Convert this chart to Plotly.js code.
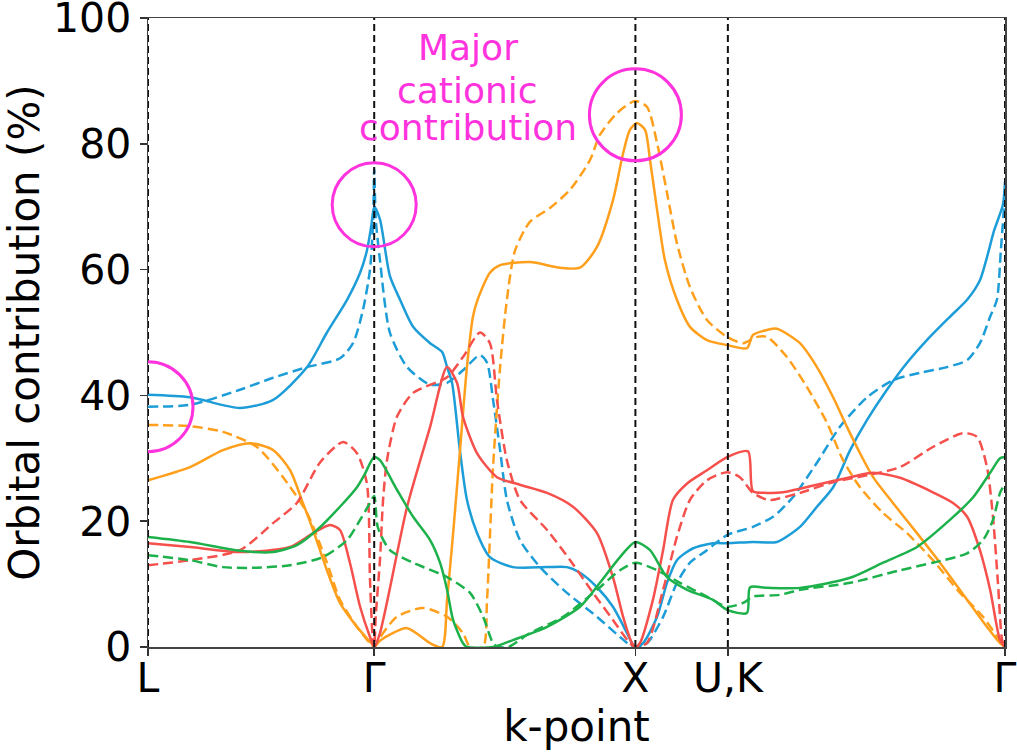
<!DOCTYPE html>
<html>
<head>
<meta charset="utf-8">
<script src="https://cdn.plot.ly/plotly-3.0.1.min.js"></script>
<style>html,body{margin:0;padding:0;background:#fff}#chart{width:1017px;height:752px}</style>
</head>
<body>
<div id="chart"></div>
<script>
// high-symmetry k-points (path distance, 2π/a units)
const kTickVals = [0, 0.866, 1.866, 2.220, 3.281];
const kTickText = ['L', 'Γ', 'X', 'U,K', 'Γ'];

// blue solid
const blueSolidX = [0,0.161,0.352,0.479,0.609,0.685,0.762,0.812,0.838,0.855,0.866,
  0.888,0.926,0.965,1.015,1.080,1.126,1.145,1.164,1.194,1.221,1.260,1.309,1.397,1.528,1.604,1.654,1.719,1.780,1.834,1.857,1.866,
  1.895,1.949,1.987,2.025,2.087,2.163,2.220,2.316,2.408,2.496,2.561,2.623,2.688,2.753,2.829,2.906,2.982,3.070,3.136,3.185,3.240,3.273,3.281];
const blueSolidY = [40.1,39.7,38.0,39.3,44.5,50.0,55.2,59.5,63,67,70,
  68,59,55.2,50.9,48.3,46.9,44.5,42,31.3,23.4,18.1,14.3,12.7,12.7,12.7,11.8,9.5,6.4,2.2,0.3,0,
  0.6,4.8,10.2,13.8,15.7,16.5,16.5,16.7,16.7,19.1,22.3,25.4,31.3,36.1,40.9,45.2,48.8,52.5,55.2,58.3,66.3,70.3,74];

// blue dashed
const blueDashX = [0,0.161,0.352,0.479,0.609,0.735,0.785,0.823,0.850,0.862,0.866,
  0.872,0.888,0.926,0.992,1.080,1.145,1.206,1.271,1.298,1.321,1.348,1.374,1.424,1.501,1.604,1.719,1.807,1.845,1.866,
  1.910,1.972,2.025,2.075,2.140,2.217,2.316,2.393,2.469,2.561,2.649,2.753,2.852,2.956,3.059,3.136,3.185,3.224,3.250,3.265,3.281];
const blueDashY = [38.2,38.5,40.9,42.8,44.5,45.9,48.3,53.6,60,68,76,
  68,61.5,50,44.5,41.7,42,44,46.4,45.2,39.3,31.3,23.4,17,12.7,8.6,4.8,1.6,0.3,0,
  0.6,4.8,10.2,13.4,15.4,17.8,19.1,20.7,23.8,29.3,35,39.7,42.4,43.6,44.5,45.6,48.3,52.5,55.2,63,72];

// red solid
const redSolidX = [0,0.161,0.352,0.544,0.632,0.697,0.735,0.773,0.812,0.850,0.866,
  0.888,0.992,1.080,1.145,1.183,1.206,1.260,1.336,1.424,1.528,1.627,1.719,1.780,1.819,1.853,1.866,
  1.883,1.933,1.972,2.010,2.064,2.140,2.217,2.297,2.316,2.370,2.431,2.561,2.688,2.776,2.879,3.005,3.082,3.136,3.185,3.224,3.262,3.281];
const redSolidY = [16.5,15.9,15.1,15.9,18.1,19.4,18.6,13.4,6.4,1.6,0,
  2.2,22.3,35,44.5,42,36.6,30.8,27,25.8,24.5,22.3,18.1,11.1,4.8,0.6,0,
  0.6,7.5,15.4,23.4,26,28.1,30.2,31.1,24.8,24.5,24.6,25.8,27,27.7,26.9,24.6,22.9,20.7,15.4,9.1,1.1,0];

// red dashed
const redDashX = [0,0.161,0.352,0.479,0.570,0.658,0.747,0.800,0.838,0.850,0.861,0.866,
  0.872,0.888,0.900,0.915,0.953,1.015,1.145,1.206,1.271,1.309,1.336,1.374,1.424,1.528,1.616,1.704,1.780,1.845,1.866,
  1.910,1.972,2.025,2.075,2.140,2.217,2.266,2.316,2.370,2.393,2.496,2.623,2.753,2.879,3.005,3.120,3.174,3.212,3.235,3.254,3.270,3.281];
const redDashY = [13,13.8,15.4,19.7,22.9,29.3,32.6,30.8,26,10.6,1,0,
  5,13.8,23.4,29.7,36.6,40.4,42.9,46.1,50,48.3,39.3,29.7,23.4,18.6,13.8,8.6,4.3,0.6,0,
  0.6,9.1,17.5,23.4,26.5,27.8,27,24.5,23.4,23.4,24.5,26.2,27.3,28.6,31.8,34,33.4,28.6,20.7,10.2,1.1,0];

// orange solid
const orangeSolidX = [0,0.161,0.287,0.391,0.479,0.544,0.593,0.632,0.685,0.735,0.800,0.861,0.866,
  0.888,0.992,1.080,1.126,1.145,1.168,1.194,1.221,1.244,1.260,1.309,1.348,1.462,1.577,1.654,1.719,1.780,1.819,1.845,1.872,
  1.903,1.922,1.949,1.979,2.025,2.075,2.140,2.217,2.293,2.316,2.370,2.408,2.496,2.561,2.623,2.676,2.726,2.776,2.852,2.944,3.032,3.136,3.212,3.262,3.281];
const orangeSolidY = [26.5,28.6,31.3,32.4,31.3,28.1,22.9,18.6,12.2,7,3.2,0.3,0,
  1,3,0.6,0,7.5,18,31,44.5,52.5,55,59.5,60.7,61.2,60.3,60.3,63.6,71,78.5,82.2,83.3,
  82.2,77.4,69.5,61.5,55.2,50.9,48.8,48,47.5,49.6,50.4,50.6,48.3,44.5,39.7,35,30.8,27,22.9,18.1,13.4,7.5,3.2,0.6,0];

// orange dashed
const orangeDashX = [0,0.161,0.287,0.417,0.517,0.609,0.685,0.735,0.800,0.850,0.866,
  0.888,0.953,1.053,1.145,1.206,1.233,1.283,1.298,1.321,1.348,1.374,1.405,1.462,1.539,1.616,1.692,1.730,1.796,1.864,
  1.910,1.949,1.987,2.025,2.075,2.140,2.217,2.278,2.332,2.370,2.446,2.523,2.600,2.661,2.726,2.814,2.906,3.005,3.109,3.197,3.262,3.281];
const orangeDashY = [35.3,35.1,34.2,31.8,27,21.3,13.4,7.5,3.2,0.6,0,
  1.5,4.8,6.2,4.8,2.2,0,0,7.5,28.6,44.5,55.2,63,67.6,69.8,72.7,77.4,81.4,84.9,86.8,
  85.9,80.1,72.2,64.2,57.2,52,49.3,48.3,49.3,49.3,46.1,41.3,35.6,29.7,25.4,21.3,18.1,13.8,8.6,4.8,1,0];

// green solid
const greenSolidX = [0,0.161,0.352,0.479,0.570,0.647,0.735,0.800,0.830,0.866,
  0.888,0.953,1.015,1.080,1.118,1.145,1.168,1.206,1.221,1.321,1.397,1.528,1.654,1.730,1.807,1.866,
  1.922,1.987,2.064,2.163,2.217,2.293,2.305,2.370,2.496,2.688,2.814,2.944,3.070,3.159,3.224,3.262,3.281];
const greenSolidY = [17.5,16.7,15.3,15.1,16.2,18.6,22.3,25.4,27.5,30.2,
  29.7,25,20.7,17,13.4,9.1,4.3,0.6,0,0,1.1,3.2,6.4,10.2,14.3,16.7,
  15.4,11.1,9.1,7.5,5.9,5.4,9.5,9.4,9.4,11,13.4,15.9,20.2,23.8,27.7,30,30.2];

// green dashed
const greenDashX = [0,0.161,0.287,0.417,0.544,0.670,0.762,0.812,0.850,0.866,
  0.880,0.926,1.015,1.145,1.233,1.283,1.321,1.340,1.380,1.462,1.589,1.719,1.807,1.866,
  1.949,2.037,2.140,2.217,2.278,2.316,2.420,2.496,2.688,2.879,3.005,3.136,3.197,3.235,3.262,3.281];
const greenDashY = [14.6,13.8,12.7,12.6,13,14.3,17,20.2,22.9,24,
  19,15.4,13.4,11.1,8.6,4.8,0.6,0,0,2.2,4.8,9.1,12.2,13.4,
  12.2,10.2,8,6.4,7,8,8.3,9.1,10.2,12.2,13.4,14.9,17,20.2,24.5,26];

// highlighted regions (k, %)
const circleK = [0, 0.866, 1.866];
const circleVal = [38.2, 70.3, 84.6];
const circleR = [45, 42, 46];

const noteLines = ['Major', 'cationic', 'contribution'];
const noteK = 1.225;
const noteVal = [95.3, 88.4, 82.6];

const BLUE = '#1d9dd8', ORANGE = '#ff9f1c', RED = '#f5504c', GREEN = '#1db14b', MAG = '#ff33dd';
const DASH = '10px,5px';

function tr(x, y, color, dashed) {
  return {x: x, y: y, type: 'scatter', mode: 'lines', hoverinfo: 'skip',
    line: {color: color, width: 2.5, dash: dashed ? DASH : 'solid', shape: 'spline', smoothing: 0.7}};
}

const data = [
  tr(blueSolidX, blueSolidY, BLUE, false),
  tr(blueDashX, blueDashY, BLUE, true),
  tr(orangeSolidX, orangeSolidY, ORANGE, false),
  tr(orangeDashX, orangeDashY, ORANGE, true),
  tr(redSolidX, redSolidY, RED, false),
  tr(redDashX, redDashY, RED, true),
  tr(greenSolidX, greenSolidY, GREEN, false),
  tr(greenDashX, greenDashY, GREEN, true)
];

const shapes = [];
kTickVals.forEach(k => shapes.push({type: 'line', xref: 'x', yref: 'paper', x0: k, x1: k, y0: 0, y1: 1,
  line: {color: '#111', width: 2, dash: '7px,4px'}, layer: 'above'}));
circleK.forEach((k, i) => shapes.push({type: 'circle', xref: 'x', yref: 'y', xsizemode: 'pixel', ysizemode: 'pixel',
  xanchor: k, yanchor: circleVal[i], x0: -circleR[i], x1: circleR[i], y0: -circleR[i], y1: circleR[i],
  line: {color: MAG, width: 3}, layer: 'above'}));

const annotations = noteLines.map((t, i) => ({x: noteK, y: noteVal[i], xref: 'x', yref: 'y', text: t,
  showarrow: false, xanchor: 'center', yanchor: 'middle', font: {family: 'DejaVu Sans', size: 36, color: MAG}}));

const axFont = {family: 'DejaVu Sans', size: 41, color: '#000'};
const layout = {
  width: 1017, height: 752,
  margin: {l: 148, r: 12, t: 18, b: 105, pad: 0},
  paper_bgcolor: '#fff', plot_bgcolor: '#fff',
  showlegend: false,
  font: {family: 'DejaVu Sans'},
  xaxis: {range: [0, 3.281], tickmode: 'array', tickvals: kTickVals, ticktext: kTickText,
    ticks: 'outside', ticklen: 7, tickwidth: 1.5, tickcolor: '#333', tickfont: axFont, ticklabeloverflow: 'allow',
    ticklabelstandoff: -13,
    showgrid: false, zeroline: false, showline: true, mirror: true, linecolor: '#444', linewidth: 1.5,
    title: {text: 'k-point', font: {family: 'DejaVu Sans', size: 42, color: '#000'}, standoff: 4}},
  yaxis: {range: [0, 100], tickvals: [0, 20, 40, 60, 80, 100],
    ticks: 'outside', ticklen: 7, tickwidth: 1.5, tickcolor: '#333', tickfont: axFont, ticklabeloverflow: 'allow',
    showgrid: false, zeroline: false, showline: true, mirror: true, linecolor: '#444', linewidth: 1.5,
    title: {text: 'Orbital contribution (%)', font: {family: 'DejaVu Sans', size: 42, color: '#000'}, standoff: 8}},
  shapes: shapes,
  annotations: annotations
};

Plotly.newPlot('chart', data, layout, {displayModeBar: false, staticPlot: true});
</script>
</body>
</html>
